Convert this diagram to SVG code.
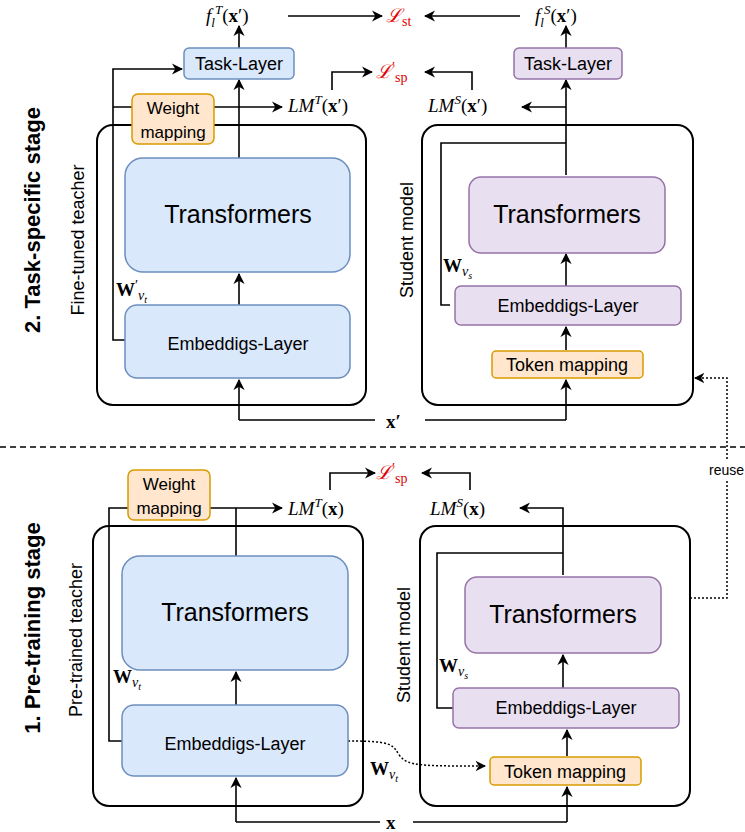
<svg xmlns="http://www.w3.org/2000/svg" width="745" height="832" viewBox="0 0 745 832">
<defs>
<marker id="a" viewBox="0 0 10 10" refX="9" refY="5" markerWidth="7" markerHeight="7" orient="auto"><path d="M0,0 L10,5 L0,10 L3,5 z" fill="#000"/></marker>
<style>
.c{fill:#fff;stroke:#000;stroke-width:2}
.b{fill:#dae8fc;stroke:#6c8ebf;stroke-width:1.5}
.p{fill:#e8dff0;stroke:#9673a6;stroke-width:1.5}
.o{fill:#ffe6cc;stroke:#d79b00;stroke-width:1.5}
.l{fill:none;stroke:#000;stroke-width:1.6}
.d{fill:none;stroke:#000;stroke-width:1.5;stroke-dasharray:2 2}
text{font-family:"Liberation Sans",Arial,sans-serif;fill:#000}
.m{font-family:"Liberation Serif","Times New Roman",serif;font-size:19px}
.r{fill:#e00000}
.big{font-size:25px}
.mid{font-size:18px}
</style>
</defs>
<g id="bg"><rect width="745" height="832" fill="#fff"/></g>
<g id="stage-labels">
<text transform="translate(40,220) rotate(-90)" text-anchor="middle" font-size="22" font-weight="bold">2. Task-specific stage</text>
<text transform="translate(40,628) rotate(-90)" text-anchor="middle" font-size="22" font-weight="bold">1. Pre-training stage</text>
<line x1="0" y1="447" x2="745" y2="447" stroke="#000" stroke-width="1.5" stroke-dasharray="6 4"/>
</g>
<g id="teacher-top"><rect class="c" x="97" y="125" width="269" height="280" rx="16"/>
<text transform="translate(84,240) rotate(-90)" text-anchor="middle" font-size="18">Fine-tuned teacher</text></g>
<g id="student-top"><rect class="c" x="422" y="125" width="271" height="280" rx="16"/>
<text transform="translate(413,240) rotate(-90)" text-anchor="middle" font-size="18">Student model</text></g>
<g id="teacher-bot"><rect class="c" x="93" y="526" width="270" height="280" rx="16"/>
<text transform="translate(82,640) rotate(-90)" text-anchor="middle" font-size="18">Pre-trained teacher</text></g>
<g id="student-bot"><rect class="c" x="420" y="526" width="270" height="280" rx="16"/>
<text transform="translate(410,645) rotate(-90)" text-anchor="middle" font-size="18">Student model</text></g>

<g id="connectors">
<path class="l" d="M125,340 H113 V69 H182" marker-end="url(#a)"/>
<path class="l" d="M113,107 H282" marker-end="url(#a)"/>
<path class="l" d="M239,158 V80" marker-end="url(#a)"/>
<path class="l" d="M239,305 V274" marker-end="url(#a)"/>
<path class="l" d="M239,48 V26" marker-end="url(#a)"/>
<path class="l" d="M239,420 V380" marker-end="url(#a)"/>
<path class="l" d="M239,420 H375 M425,420 H566"/>
<path class="l" d="M566,420 V380" marker-end="url(#a)"/>
<path class="l" d="M288,16 H382" marker-end="url(#a)"/>
<path class="l" d="M520,16 H425" marker-end="url(#a)"/>
<path class="l" d="M332,90 V72 H372" marker-end="url(#a)"/>
<path class="l" d="M472,90 V72 H425" marker-end="url(#a)"/>
<path class="l" d="M566,175 V80" marker-end="url(#a)"/>
<path class="l" d="M566,107 H522" marker-end="url(#a)"/>
<path class="l" d="M566,48 V26" marker-end="url(#a)"/>
<path class="l" d="M450,305 H441 V143 H566"/>
<path class="l" d="M566,286 V254" marker-end="url(#a)"/>
<path class="l" d="M566,350 V327" marker-end="url(#a)"/>
<path class="l" d="M122,741 H109 V508 H282" marker-end="url(#a)"/>
<path class="l" d="M236,556 V508"/>
<path class="l" d="M236,705 V672" marker-end="url(#a)"/>
<path class="l" d="M236,822 V778" marker-end="url(#a)"/>
<path class="l" d="M236,822 H380 M413,822 H567"/>
<path class="l" d="M567,822 V787" marker-end="url(#a)"/>
<path class="l" d="M330,490 V473 H375" marker-end="url(#a)"/>
<path class="l" d="M470,490 V473 H422" marker-end="url(#a)"/>
<path class="l" d="M563,575 V508 H520" marker-end="url(#a)"/>
<path class="l" d="M453,708 H437 V553 H563"/>
<path class="l" d="M563,688 V655" marker-end="url(#a)"/>
<path class="l" d="M567,756 V730" marker-end="url(#a)"/>
<path class="d" d="M348,741 C395,741 392,745 400,756 C408,766 420,766 485,766" marker-end="url(#a)"/>
<path class="d" d="M690,598 H727 V378 H695" marker-end="url(#a)"/>
</g>

<g id="tasklayer-t"><rect class="b" x="184" y="48" width="110" height="31" rx="5"/><text x="239" y="70" text-anchor="middle" font-size="18">Task-Layer</text></g>
<g id="tasklayer-s"><rect class="p" x="514" y="48" width="108" height="31" rx="5"/><text x="568" y="70" text-anchor="middle" font-size="18">Task-Layer</text></g>
<g id="weight-t"><rect class="o" x="132" y="94" width="82" height="50" rx="6"/><text x="173" y="114" text-anchor="middle" font-size="17">Weight</text><text x="173" y="138" text-anchor="middle" font-size="17">mapping</text></g>
<g id="trans-t"><rect class="b" x="125" y="158" width="225" height="114" rx="18"/><text x="238" y="223" text-anchor="middle" class="big">Transformers</text></g>
<g id="emb-t"><rect class="b" x="125" y="305" width="225" height="73" rx="12"/><text x="238" y="350" text-anchor="middle" class="mid">Embeddigs-Layer</text></g>
<g id="trans-s"><rect class="p" x="469" y="177" width="196" height="76" rx="12"/><text x="567" y="223" text-anchor="middle" class="big">Transformers</text></g>
<g id="emb-s"><rect class="p" x="455" y="286" width="226" height="39" rx="6"/><text x="568" y="312" text-anchor="middle" class="mid">Embeddigs-Layer</text></g>
<g id="tok-s"><rect class="o" x="492" y="351" width="151" height="27" rx="4"/><text x="567" y="371" text-anchor="middle" class="mid">Token mapping</text></g>

<g id="weight-b"><rect class="o" x="128" y="470" width="82" height="50" rx="6"/><text x="169" y="490" text-anchor="middle" font-size="17">Weight</text><text x="169" y="514" text-anchor="middle" font-size="17">mapping</text></g>
<g id="trans-tb"><rect class="b" x="122" y="556" width="226" height="114" rx="18"/><text x="235" y="621" text-anchor="middle" class="big">Transformers</text></g>
<g id="emb-tb"><rect class="b" x="122" y="705" width="226" height="71" rx="12"/><text x="235" y="750" text-anchor="middle" class="mid">Embeddigs-Layer</text></g>
<g id="trans-sb"><rect class="p" x="465" y="577" width="196" height="76" rx="12"/><text x="563" y="623" text-anchor="middle" class="big">Transformers</text></g>
<g id="emb-sb"><rect class="p" x="453" y="688" width="226" height="40" rx="6"/><text x="566" y="714" text-anchor="middle" class="mid">Embeddigs-Layer</text></g>
<g id="tok-sb"><rect class="o" x="490" y="757" width="151" height="28" rx="4"/><text x="565" y="778" text-anchor="middle" class="mid">Token mapping</text></g>

<g id="math">
<text class="m" x="206" y="22"><tspan font-style="italic">f</tspan><tspan font-size="13" font-style="italic" dy="5">l</tspan><tspan font-size="13" font-style="italic" dy="-13">T</tspan><tspan dy="8">(</tspan><tspan font-weight="bold">x</tspan>′)</text>
<text class="m r" x="386" y="22"><tspan font-style="italic">ℒ</tspan><tspan font-size="14" dy="4">st</tspan></text>
<text class="m" x="535" y="22"><tspan font-style="italic">f</tspan><tspan font-size="13" font-style="italic" dy="5">l</tspan><tspan font-size="13" font-style="italic" dy="-13">S</tspan><tspan dy="8">(</tspan><tspan font-weight="bold">x</tspan>′)</text>
<text class="m r" x="376" y="78"><tspan font-style="italic">ℒ</tspan><tspan font-size="14" dy="-6">′</tspan><tspan font-size="14" dy="10">sp</tspan></text>
<text class="m" x="288" y="112"><tspan font-style="italic">LM</tspan><tspan font-size="13" font-style="italic" dy="-8">T</tspan><tspan dy="8">(</tspan><tspan font-weight="bold">x</tspan>′)</text>
<text class="m" x="428" y="112"><tspan font-style="italic">LM</tspan><tspan font-size="13" font-style="italic" dy="-8">S</tspan><tspan dy="8">(</tspan><tspan font-weight="bold">x</tspan>′)</text>
<text class="m" x="116" y="296"><tspan font-weight="bold">W</tspan><tspan font-size="14" dy="-6">′</tspan><tspan font-size="14" font-style="italic" dy="10">v</tspan><tspan font-size="10" font-style="italic" dy="3">t</tspan></text>
<text class="m" x="443" y="272"><tspan font-weight="bold">W</tspan><tspan font-size="14" font-style="italic" dy="4">v</tspan><tspan font-size="10" font-style="italic" dy="3">s</tspan></text>
<text class="m" x="386" y="428" font-size="24" font-weight="bold">x′</text>
<text class="m r" x="376" y="479"><tspan font-style="italic">ℒ</tspan><tspan font-size="14" dy="-6">′</tspan><tspan font-size="14" dy="10">sp</tspan></text>
<text class="m" x="288" y="515"><tspan font-style="italic">LM</tspan><tspan font-size="13" font-style="italic" dy="-8">T</tspan><tspan dy="8">(</tspan><tspan font-weight="bold">x</tspan>)</text>
<text class="m" x="430" y="515"><tspan font-style="italic">LM</tspan><tspan font-size="13" font-style="italic" dy="-8">S</tspan><tspan dy="8">(</tspan><tspan font-weight="bold">x</tspan>)</text>
<text class="m" x="113" y="683"><tspan font-weight="bold">W</tspan><tspan font-size="14" font-style="italic" dy="4">v</tspan><tspan font-size="10" font-style="italic" dy="3">t</tspan></text>
<text class="m" x="439" y="672"><tspan font-weight="bold">W</tspan><tspan font-size="14" font-style="italic" dy="4">v</tspan><tspan font-size="10" font-style="italic" dy="3">s</tspan></text>
<text class="m" x="370" y="775"><tspan font-weight="bold">W</tspan><tspan font-size="14" font-style="italic" dy="4">v</tspan><tspan font-size="10" font-style="italic" dy="3">t</tspan></text>
<text class="m" x="386" y="829" font-size="24" font-weight="bold">x</text>
</g>
<g id="reuse"><rect x="712" y="460" width="32" height="20" fill="#fff"/><text x="744" y="475" text-anchor="end" font-size="14">reuse</text></g>
</svg>
